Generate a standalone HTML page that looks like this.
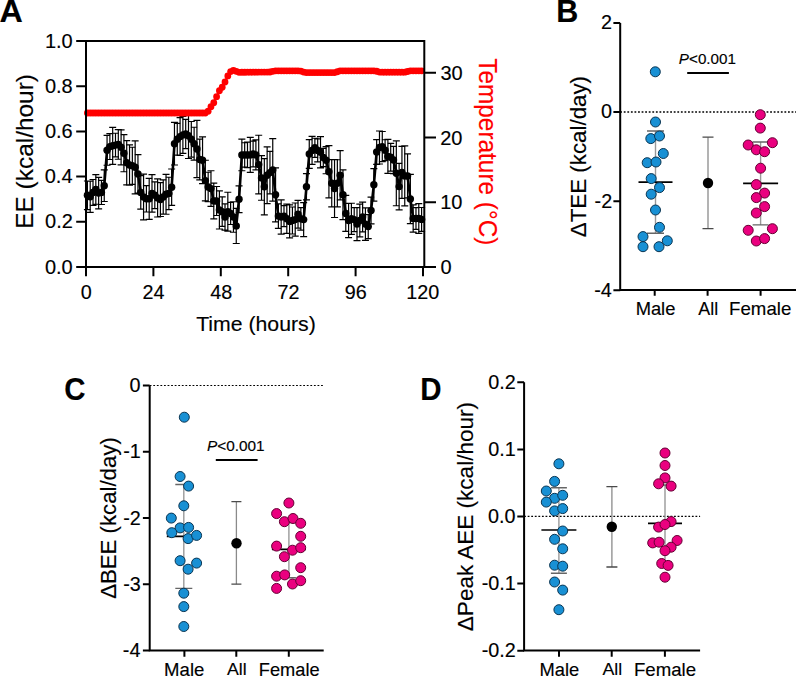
<!DOCTYPE html>
<html><head><meta charset="utf-8"><style>
html,body{margin:0;padding:0;background:#fff;}
svg{display:block;font-family:'Liberation Sans', sans-serif;}
</style></head><body>
<svg width="796" height="676" viewBox="0 0 796 676">
<rect width="796" height="676" fill="#fff"/>
<path d="M87.40 181.00V209.60M83.90 181.00h7M83.90 209.60h7M90.21 181.18V212.42M86.71 181.18h7M86.71 212.42h7M93.02 179.48V205.32M89.52 179.48h7M89.52 205.32h7M95.83 174.55V204.25M92.33 174.55h7M92.33 204.25h7M98.64 177.35V208.85M95.14 177.35h7M95.14 208.85h7M101.45 180.30V204.50M97.95 180.30h7M97.95 204.50h7M104.25 169.92V201.48M100.75 169.92h7M100.75 201.48h7M107.06 135.37V165.23M103.56 135.37h7M103.56 165.23h7M109.87 133.70V159.50M106.37 133.70h7M106.37 159.50h7M112.68 127.30V164.30M109.18 127.30h7M109.18 164.30h7M115.49 133.26V156.94M111.99 133.26h7M111.99 156.94h7M118.30 129.56V159.24M114.80 129.56h7M114.80 159.24h7M121.10 129.80V164.80M117.60 129.80h7M117.60 164.80h7M123.91 134.67V171.73M120.41 134.67h7M120.41 171.73h7M126.72 140.64V184.96M123.22 140.64h7M123.22 184.96h7M129.53 144.89V185.11M126.03 144.89h7M126.03 185.11h7M132.34 147.25V184.35M128.84 147.25h7M128.84 184.35h7M135.15 140.78V193.82M131.65 140.78h7M131.65 193.82h7M137.95 154.60V193.20M134.45 154.60h7M134.45 193.20h7M140.76 175.72V209.08M137.26 175.72h7M137.26 209.08h7M143.57 174.17V219.83M140.07 174.17h7M140.07 219.83h7M146.38 185.60V212.00M142.88 185.60h7M142.88 212.00h7M149.19 178.30V219.30M145.69 178.30h7M145.69 219.30h7M152.00 174.67V212.13M148.50 174.67h7M148.50 212.13h7M154.80 181.78V208.62M151.30 181.78h7M151.30 208.62h7M157.61 178.79V217.01M154.11 178.79h7M154.11 217.01h7M160.42 182.72V216.48M156.92 182.72h7M156.92 216.48h7M163.23 179.90V214.10M159.73 179.90h7M159.73 214.10h7M166.04 174.34V214.26M162.54 174.34h7M162.54 214.26h7M168.85 177.23V209.57M165.35 177.23h7M165.35 209.57h7M171.65 169.02V205.38M168.15 169.02h7M168.15 205.38h7M174.46 122.42V164.98M170.96 122.42h7M170.96 164.98h7M177.27 123.44V155.16M173.77 123.44h7M173.77 155.16h7M180.08 117.70V155.50M176.58 117.70h7M176.58 155.50h7M182.89 116.52V153.28M179.39 116.52h7M179.39 153.28h7M185.70 119.34V148.66M182.20 119.34h7M182.20 148.66h7M188.50 112.90V158.50M185.00 112.90h7M185.00 158.50h7M191.31 121.52V157.08M187.81 121.52h7M187.81 157.08h7M194.12 127.27V160.13M190.62 127.27h7M190.62 160.13h7M196.93 120.40V177.60M193.43 120.40h7M193.43 177.60h7M199.74 139.05V179.95M196.24 139.05h7M196.24 179.95h7M202.55 136.78V183.62M199.05 136.78h7M199.05 183.62h7M205.35 160.25V200.95M201.85 160.25h7M201.85 200.95h7M208.16 172.26V201.74M204.66 172.26h7M204.66 201.74h7M210.97 170.73V206.47M207.47 170.73h7M207.47 206.47h7M213.78 183.18V218.82M210.28 183.18h7M210.28 218.82h7M216.59 186.50V215.50M213.09 186.50h7M213.09 215.50h7M219.40 190.81V228.99M215.90 190.81h7M215.90 228.99h7M222.20 196.94V226.46M218.70 196.94h7M218.70 226.46h7M225.01 203.89V230.11M221.51 203.89h7M221.51 230.11h7M227.82 192.23V231.17M224.32 192.23h7M224.32 231.17h7M230.63 202.28V224.52M227.13 202.28h7M227.13 224.52h7M233.44 201.74V232.26M229.94 201.74h7M229.94 232.26h7M236.25 208.30V243.50M232.75 208.30h7M232.75 243.50h7M239.05 185.81V212.59M235.55 185.81h7M235.55 212.59h7M241.86 139.07V170.73M238.36 139.07h7M238.36 170.73h7M244.67 142.73V167.07M241.17 142.73h7M241.17 167.07h7M247.48 142.12V167.68M243.98 142.12h7M243.98 167.68h7M250.29 137.34V172.46M246.79 137.34h7M246.79 172.46h7M253.10 141.15V166.85M249.60 141.15h7M249.60 166.85h7M255.90 139.97V169.83M252.40 139.97h7M252.40 169.83h7M258.71 135.24V193.96M255.21 135.24h7M255.21 193.96h7M261.52 155.53V200.27M258.02 155.53h7M258.02 200.27h7M264.33 158.66V214.94M260.83 158.66h7M260.83 214.94h7M267.14 146.92V203.68M263.64 146.92h7M263.64 203.68h7M269.95 151.28V193.92M266.45 151.28h7M266.45 193.92h7M272.75 138.59V201.21M269.25 138.59h7M269.25 201.21h7M275.56 167.78V221.82M272.06 167.78h7M272.06 221.82h7M278.37 203.79V228.41M274.87 203.79h7M274.87 228.41h7M281.18 199.83V234.17M277.68 199.83h7M277.68 234.17h7M283.99 205.63V226.57M280.49 205.63h7M280.49 226.57h7M286.80 204.15V233.45M283.30 204.15h7M283.30 233.45h7M289.60 204.83V237.97M286.10 204.83h7M286.10 237.97h7M292.41 207.01V233.99M288.91 207.01h7M288.91 233.99h7M295.22 202.99V236.21M291.72 202.99h7M291.72 236.21h7M298.03 200.45V228.15M294.53 200.45h7M294.53 228.15h7M300.84 207.54V230.06M297.34 207.54h7M297.34 230.06h7M303.65 202.60V236.60M300.15 202.60h7M300.15 236.60h7M306.45 173.64V199.96M302.95 173.64h7M302.95 199.96h7M309.26 139.57V168.43M305.76 139.57h7M305.76 168.43h7M312.07 136.44V164.36M308.57 136.44h7M308.57 164.36h7M314.88 138.23V157.37M311.38 138.23h7M311.38 157.37h7M317.69 138.92V161.88M314.19 138.92h7M314.19 161.88h7M320.50 136.55V167.85M317.00 136.55h7M317.00 167.85h7M323.30 148.32V166.68M319.80 148.32h7M319.80 166.68h7M326.11 146.66V173.74M322.61 146.66h7M322.61 173.74h7M328.92 145.57V197.83M325.42 145.57h7M325.42 197.83h7M331.73 159.65V206.95M328.23 159.65h7M328.23 206.95h7M334.54 159.72V217.48M331.04 159.72h7M331.04 217.48h7M337.35 159.73V206.87M333.85 159.73h7M333.85 206.87h7M340.15 150.69V199.91M336.65 150.69h7M336.65 199.91h7M342.96 169.93V219.67M339.46 169.93h7M339.46 219.67h7M345.77 195.35V231.45M342.27 195.35h7M342.27 231.45h7M348.58 203.32V237.68M345.08 203.32h7M345.08 237.68h7M351.39 203.23V234.37M347.89 203.23h7M347.89 234.37h7M354.20 207.60V231.60M350.70 207.60h7M350.70 231.60h7M357.00 207.57V240.63M353.50 207.57h7M353.50 240.63h7M359.81 204.09V236.91M356.31 204.09h7M356.31 236.91h7M362.62 202.10V231.90M359.12 202.10h7M359.12 231.90h7M365.43 207.80V240.40M361.93 207.80h7M361.93 240.40h7M368.24 214.56V238.64M364.74 214.56h7M364.74 238.64h7M371.05 197.05V223.95M367.55 197.05h7M367.55 223.95h7M373.85 168.57V201.03M370.35 168.57h7M370.35 201.03h7M376.66 139.65V164.35M373.16 139.65h7M373.16 164.35h7M379.47 131.00V164.00M375.97 131.00h7M375.97 164.00h7M382.28 131.49V161.71M378.78 131.49h7M378.78 161.71h7M385.09 139.74V160.66M381.59 139.74h7M381.59 160.66h7M387.90 139.37V173.43M384.40 139.37h7M384.40 173.43h7M390.70 143.40V171.20M387.20 143.40h7M387.20 171.20h7M393.51 146.32V173.68M390.01 146.32h7M390.01 173.68h7M396.32 140.83V205.77M392.82 140.83h7M392.82 205.77h7M399.13 163.29V209.91M395.63 163.29h7M395.63 209.91h7M401.94 146.39V198.41M398.44 146.39h7M398.44 198.41h7M404.75 145.91V205.89M401.25 145.91h7M401.25 205.89h7M407.55 153.84V197.96M404.05 153.84h7M404.05 197.96h7M410.36 174.32V223.68M406.86 174.32h7M406.86 223.68h7M413.17 204.92V232.08M409.67 204.92h7M409.67 232.08h7M415.98 207.70V229.30M412.48 207.70h7M412.48 229.30h7M418.79 203.56V233.44M415.29 203.56h7M415.29 233.44h7M421.60 207.48V231.32M418.10 207.48h7M418.10 231.32h7" stroke="#000" stroke-width="1.2" fill="none"/>
<polyline fill="none" points="87.40,195.30 90.21,196.80 93.02,192.40 95.83,189.40 98.64,193.10 101.45,192.40 104.25,185.70 107.06,150.30 109.87,146.60 112.68,145.80 115.49,145.10 118.30,144.40 121.10,147.30 123.91,153.20 126.72,162.80 129.53,165.00 132.34,165.80 135.15,167.30 137.95,173.90 140.76,192.40 143.57,197.00 146.38,198.80 149.19,198.80 152.00,193.40 154.80,195.20 157.61,197.90 160.42,199.60 163.23,197.00 166.04,194.30 168.85,193.40 171.65,187.20 174.46,143.70 177.27,139.30 180.08,136.60 182.89,134.90 185.70,134.00 188.50,135.70 191.31,139.30 194.12,143.70 196.93,149.00 199.74,159.50 202.55,160.20 205.35,180.60 208.16,187.00 210.97,188.60 213.78,201.00 216.59,201.00 219.40,209.90 222.20,211.70 225.01,217.00 227.82,211.70 230.63,213.40 233.44,217.00 236.25,225.90 239.05,199.20 241.86,154.90 244.67,154.90 247.48,154.90 250.29,154.90 253.10,154.00 255.90,154.90 258.71,164.60 261.52,177.90 264.33,186.80 267.14,175.30 269.95,172.60 272.75,169.90 275.56,194.80 278.37,216.10 281.18,217.00 283.99,216.10 286.80,218.80 289.60,221.40 292.41,220.50 295.22,219.60 298.03,214.30 300.84,218.80 303.65,219.60 306.45,186.80 309.26,154.00 312.07,150.40 314.88,147.80 317.69,150.40 320.50,152.20 323.30,157.50 326.11,160.20 328.92,171.70 331.73,183.30 334.54,188.60 337.35,183.30 340.15,175.30 342.96,194.80 345.77,213.40 348.58,220.50 351.39,218.80 354.20,219.60 357.00,224.10 359.81,220.50 362.62,217.00 365.43,224.10 368.24,226.60 371.05,210.50 373.85,184.80 376.66,152.00 379.47,147.50 382.28,146.60 385.09,150.20 387.90,156.40 390.70,157.30 393.51,160.00 396.32,173.30 399.13,186.60 401.94,172.40 404.75,175.90 407.55,175.90 410.36,199.00 413.17,218.50 415.98,218.50 418.79,218.50 421.60,219.40" stroke="#000" stroke-width="2.6"/>
<g fill="#000"><circle cx="87.40" cy="195.30" r="3.7"/><circle cx="90.21" cy="196.80" r="3.7"/><circle cx="93.02" cy="192.40" r="3.7"/><circle cx="95.83" cy="189.40" r="3.7"/><circle cx="98.64" cy="193.10" r="3.7"/><circle cx="101.45" cy="192.40" r="3.7"/><circle cx="104.25" cy="185.70" r="3.7"/><circle cx="107.06" cy="150.30" r="3.7"/><circle cx="109.87" cy="146.60" r="3.7"/><circle cx="112.68" cy="145.80" r="3.7"/><circle cx="115.49" cy="145.10" r="3.7"/><circle cx="118.30" cy="144.40" r="3.7"/><circle cx="121.10" cy="147.30" r="3.7"/><circle cx="123.91" cy="153.20" r="3.7"/><circle cx="126.72" cy="162.80" r="3.7"/><circle cx="129.53" cy="165.00" r="3.7"/><circle cx="132.34" cy="165.80" r="3.7"/><circle cx="135.15" cy="167.30" r="3.7"/><circle cx="137.95" cy="173.90" r="3.7"/><circle cx="140.76" cy="192.40" r="3.7"/><circle cx="143.57" cy="197.00" r="3.7"/><circle cx="146.38" cy="198.80" r="3.7"/><circle cx="149.19" cy="198.80" r="3.7"/><circle cx="152.00" cy="193.40" r="3.7"/><circle cx="154.80" cy="195.20" r="3.7"/><circle cx="157.61" cy="197.90" r="3.7"/><circle cx="160.42" cy="199.60" r="3.7"/><circle cx="163.23" cy="197.00" r="3.7"/><circle cx="166.04" cy="194.30" r="3.7"/><circle cx="168.85" cy="193.40" r="3.7"/><circle cx="171.65" cy="187.20" r="3.7"/><circle cx="174.46" cy="143.70" r="3.7"/><circle cx="177.27" cy="139.30" r="3.7"/><circle cx="180.08" cy="136.60" r="3.7"/><circle cx="182.89" cy="134.90" r="3.7"/><circle cx="185.70" cy="134.00" r="3.7"/><circle cx="188.50" cy="135.70" r="3.7"/><circle cx="191.31" cy="139.30" r="3.7"/><circle cx="194.12" cy="143.70" r="3.7"/><circle cx="196.93" cy="149.00" r="3.7"/><circle cx="199.74" cy="159.50" r="3.7"/><circle cx="202.55" cy="160.20" r="3.7"/><circle cx="205.35" cy="180.60" r="3.7"/><circle cx="208.16" cy="187.00" r="3.7"/><circle cx="210.97" cy="188.60" r="3.7"/><circle cx="213.78" cy="201.00" r="3.7"/><circle cx="216.59" cy="201.00" r="3.7"/><circle cx="219.40" cy="209.90" r="3.7"/><circle cx="222.20" cy="211.70" r="3.7"/><circle cx="225.01" cy="217.00" r="3.7"/><circle cx="227.82" cy="211.70" r="3.7"/><circle cx="230.63" cy="213.40" r="3.7"/><circle cx="233.44" cy="217.00" r="3.7"/><circle cx="236.25" cy="225.90" r="3.7"/><circle cx="239.05" cy="199.20" r="3.7"/><circle cx="241.86" cy="154.90" r="3.7"/><circle cx="244.67" cy="154.90" r="3.7"/><circle cx="247.48" cy="154.90" r="3.7"/><circle cx="250.29" cy="154.90" r="3.7"/><circle cx="253.10" cy="154.00" r="3.7"/><circle cx="255.90" cy="154.90" r="3.7"/><circle cx="258.71" cy="164.60" r="3.7"/><circle cx="261.52" cy="177.90" r="3.7"/><circle cx="264.33" cy="186.80" r="3.7"/><circle cx="267.14" cy="175.30" r="3.7"/><circle cx="269.95" cy="172.60" r="3.7"/><circle cx="272.75" cy="169.90" r="3.7"/><circle cx="275.56" cy="194.80" r="3.7"/><circle cx="278.37" cy="216.10" r="3.7"/><circle cx="281.18" cy="217.00" r="3.7"/><circle cx="283.99" cy="216.10" r="3.7"/><circle cx="286.80" cy="218.80" r="3.7"/><circle cx="289.60" cy="221.40" r="3.7"/><circle cx="292.41" cy="220.50" r="3.7"/><circle cx="295.22" cy="219.60" r="3.7"/><circle cx="298.03" cy="214.30" r="3.7"/><circle cx="300.84" cy="218.80" r="3.7"/><circle cx="303.65" cy="219.60" r="3.7"/><circle cx="306.45" cy="186.80" r="3.7"/><circle cx="309.26" cy="154.00" r="3.7"/><circle cx="312.07" cy="150.40" r="3.7"/><circle cx="314.88" cy="147.80" r="3.7"/><circle cx="317.69" cy="150.40" r="3.7"/><circle cx="320.50" cy="152.20" r="3.7"/><circle cx="323.30" cy="157.50" r="3.7"/><circle cx="326.11" cy="160.20" r="3.7"/><circle cx="328.92" cy="171.70" r="3.7"/><circle cx="331.73" cy="183.30" r="3.7"/><circle cx="334.54" cy="188.60" r="3.7"/><circle cx="337.35" cy="183.30" r="3.7"/><circle cx="340.15" cy="175.30" r="3.7"/><circle cx="342.96" cy="194.80" r="3.7"/><circle cx="345.77" cy="213.40" r="3.7"/><circle cx="348.58" cy="220.50" r="3.7"/><circle cx="351.39" cy="218.80" r="3.7"/><circle cx="354.20" cy="219.60" r="3.7"/><circle cx="357.00" cy="224.10" r="3.7"/><circle cx="359.81" cy="220.50" r="3.7"/><circle cx="362.62" cy="217.00" r="3.7"/><circle cx="365.43" cy="224.10" r="3.7"/><circle cx="368.24" cy="226.60" r="3.7"/><circle cx="371.05" cy="210.50" r="3.7"/><circle cx="373.85" cy="184.80" r="3.7"/><circle cx="376.66" cy="152.00" r="3.7"/><circle cx="379.47" cy="147.50" r="3.7"/><circle cx="382.28" cy="146.60" r="3.7"/><circle cx="385.09" cy="150.20" r="3.7"/><circle cx="387.90" cy="156.40" r="3.7"/><circle cx="390.70" cy="157.30" r="3.7"/><circle cx="393.51" cy="160.00" r="3.7"/><circle cx="396.32" cy="173.30" r="3.7"/><circle cx="399.13" cy="186.60" r="3.7"/><circle cx="401.94" cy="172.40" r="3.7"/><circle cx="404.75" cy="175.90" r="3.7"/><circle cx="407.55" cy="175.90" r="3.7"/><circle cx="410.36" cy="199.00" r="3.7"/><circle cx="413.17" cy="218.50" r="3.7"/><circle cx="415.98" cy="218.50" r="3.7"/><circle cx="418.79" cy="218.50" r="3.7"/><circle cx="421.60" cy="219.40" r="3.7"/></g>
<g fill="#f00"><circle cx="87.40" cy="113.00" r="3.4"/><circle cx="90.21" cy="113.00" r="3.4"/><circle cx="93.02" cy="113.00" r="3.4"/><circle cx="95.83" cy="113.00" r="3.4"/><circle cx="98.64" cy="113.00" r="3.4"/><circle cx="101.45" cy="113.00" r="3.4"/><circle cx="104.25" cy="113.00" r="3.4"/><circle cx="107.06" cy="113.00" r="3.4"/><circle cx="109.87" cy="113.00" r="3.4"/><circle cx="112.68" cy="113.00" r="3.4"/><circle cx="115.49" cy="113.00" r="3.4"/><circle cx="118.30" cy="113.00" r="3.4"/><circle cx="121.10" cy="113.00" r="3.4"/><circle cx="123.91" cy="113.00" r="3.4"/><circle cx="126.72" cy="113.00" r="3.4"/><circle cx="129.53" cy="113.00" r="3.4"/><circle cx="132.34" cy="113.00" r="3.4"/><circle cx="135.15" cy="113.00" r="3.4"/><circle cx="137.95" cy="113.00" r="3.4"/><circle cx="140.76" cy="113.00" r="3.4"/><circle cx="143.57" cy="113.00" r="3.4"/><circle cx="146.38" cy="113.00" r="3.4"/><circle cx="149.19" cy="113.00" r="3.4"/><circle cx="152.00" cy="113.00" r="3.4"/><circle cx="154.80" cy="113.00" r="3.4"/><circle cx="157.61" cy="113.00" r="3.4"/><circle cx="160.42" cy="113.00" r="3.4"/><circle cx="163.23" cy="113.00" r="3.4"/><circle cx="166.04" cy="113.00" r="3.4"/><circle cx="168.85" cy="113.00" r="3.4"/><circle cx="171.65" cy="113.00" r="3.4"/><circle cx="174.46" cy="113.00" r="3.4"/><circle cx="177.27" cy="113.00" r="3.4"/><circle cx="180.08" cy="113.00" r="3.4"/><circle cx="182.89" cy="113.00" r="3.4"/><circle cx="185.70" cy="113.00" r="3.4"/><circle cx="188.50" cy="113.00" r="3.4"/><circle cx="191.31" cy="113.00" r="3.4"/><circle cx="194.12" cy="113.00" r="3.4"/><circle cx="196.93" cy="113.00" r="3.4"/><circle cx="199.74" cy="113.00" r="3.4"/><circle cx="202.55" cy="113.00" r="3.4"/><circle cx="205.35" cy="113.00" r="3.4"/><circle cx="208.16" cy="111.20" r="3.4"/><circle cx="210.97" cy="106.70" r="3.4"/><circle cx="213.78" cy="102.65" r="3.4"/><circle cx="216.59" cy="96.65" r="3.4"/><circle cx="219.40" cy="90.75" r="3.4"/><circle cx="222.20" cy="87.25" r="3.4"/><circle cx="225.01" cy="82.00" r="3.4"/><circle cx="227.82" cy="75.90" r="3.4"/><circle cx="230.63" cy="71.55" r="3.4"/><circle cx="233.44" cy="70.30" r="3.4"/><circle cx="236.25" cy="71.30" r="3.4"/><circle cx="239.05" cy="72.29" r="3.4"/><circle cx="241.86" cy="72.26" r="3.4"/><circle cx="244.67" cy="72.23" r="3.4"/><circle cx="247.48" cy="72.21" r="3.4"/><circle cx="250.29" cy="72.18" r="3.4"/><circle cx="253.10" cy="72.16" r="3.4"/><circle cx="255.90" cy="72.13" r="3.4"/><circle cx="258.71" cy="72.10" r="3.4"/><circle cx="261.52" cy="72.08" r="3.4"/><circle cx="264.33" cy="72.05" r="3.4"/><circle cx="267.14" cy="72.03" r="3.4"/><circle cx="269.95" cy="72.00" r="3.4"/><circle cx="272.75" cy="71.34" r="3.4"/><circle cx="275.56" cy="70.80" r="3.4"/><circle cx="278.37" cy="70.80" r="3.4"/><circle cx="281.18" cy="70.80" r="3.4"/><circle cx="283.99" cy="70.80" r="3.4"/><circle cx="286.80" cy="70.80" r="3.4"/><circle cx="289.60" cy="70.80" r="3.4"/><circle cx="292.41" cy="70.80" r="3.4"/><circle cx="295.22" cy="70.80" r="3.4"/><circle cx="298.03" cy="70.80" r="3.4"/><circle cx="300.84" cy="71.10" r="3.4"/><circle cx="303.65" cy="72.11" r="3.4"/><circle cx="306.45" cy="72.60" r="3.4"/><circle cx="309.26" cy="72.60" r="3.4"/><circle cx="312.07" cy="72.60" r="3.4"/><circle cx="314.88" cy="72.60" r="3.4"/><circle cx="317.69" cy="72.60" r="3.4"/><circle cx="320.50" cy="72.60" r="3.4"/><circle cx="323.30" cy="72.60" r="3.4"/><circle cx="326.11" cy="72.60" r="3.4"/><circle cx="328.92" cy="72.60" r="3.4"/><circle cx="331.73" cy="72.60" r="3.4"/><circle cx="334.54" cy="72.60" r="3.4"/><circle cx="337.35" cy="71.76" r="3.4"/><circle cx="340.15" cy="70.80" r="3.4"/><circle cx="342.96" cy="70.80" r="3.4"/><circle cx="345.77" cy="70.80" r="3.4"/><circle cx="348.58" cy="70.80" r="3.4"/><circle cx="351.39" cy="70.80" r="3.4"/><circle cx="354.20" cy="70.80" r="3.4"/><circle cx="357.00" cy="70.80" r="3.4"/><circle cx="359.81" cy="70.80" r="3.4"/><circle cx="362.62" cy="70.80" r="3.4"/><circle cx="365.43" cy="70.80" r="3.4"/><circle cx="368.24" cy="70.80" r="3.4"/><circle cx="371.05" cy="70.80" r="3.4"/><circle cx="373.85" cy="70.80" r="3.4"/><circle cx="376.66" cy="71.27" r="3.4"/><circle cx="379.47" cy="72.05" r="3.4"/><circle cx="382.28" cy="72.20" r="3.4"/><circle cx="385.09" cy="72.20" r="3.4"/><circle cx="387.90" cy="72.20" r="3.4"/><circle cx="390.70" cy="72.20" r="3.4"/><circle cx="393.51" cy="72.20" r="3.4"/><circle cx="396.32" cy="72.20" r="3.4"/><circle cx="399.13" cy="72.20" r="3.4"/><circle cx="401.94" cy="72.20" r="3.4"/><circle cx="404.75" cy="72.20" r="3.4"/><circle cx="407.55" cy="71.48" r="3.4"/><circle cx="410.36" cy="70.80" r="3.4"/><circle cx="413.17" cy="70.80" r="3.4"/><circle cx="415.98" cy="70.80" r="3.4"/><circle cx="418.79" cy="70.80" r="3.4"/><circle cx="421.60" cy="70.80" r="3.4"/></g>
<polyline fill="none" points="87.40,113.00 90.21,113.00 93.02,113.00 95.83,113.00 98.64,113.00 101.45,113.00 104.25,113.00 107.06,113.00 109.87,113.00 112.68,113.00 115.49,113.00 118.30,113.00 121.10,113.00 123.91,113.00 126.72,113.00 129.53,113.00 132.34,113.00 135.15,113.00 137.95,113.00 140.76,113.00 143.57,113.00 146.38,113.00 149.19,113.00 152.00,113.00 154.80,113.00 157.61,113.00 160.42,113.00 163.23,113.00 166.04,113.00 168.85,113.00 171.65,113.00 174.46,113.00 177.27,113.00 180.08,113.00 182.89,113.00 185.70,113.00 188.50,113.00 191.31,113.00 194.12,113.00 196.93,113.00 199.74,113.00 202.55,113.00 205.35,113.00 208.16,111.20 210.97,106.70 213.78,102.65 216.59,96.65 219.40,90.75 222.20,87.25 225.01,82.00 227.82,75.90 230.63,71.55 233.44,70.30 236.25,71.30 239.05,72.29 241.86,72.26 244.67,72.23 247.48,72.21 250.29,72.18 253.10,72.16 255.90,72.13 258.71,72.10 261.52,72.08 264.33,72.05 267.14,72.03 269.95,72.00 272.75,71.34 275.56,70.80 278.37,70.80 281.18,70.80 283.99,70.80 286.80,70.80 289.60,70.80 292.41,70.80 295.22,70.80 298.03,70.80 300.84,71.10 303.65,72.11 306.45,72.60 309.26,72.60 312.07,72.60 314.88,72.60 317.69,72.60 320.50,72.60 323.30,72.60 326.11,72.60 328.92,72.60 331.73,72.60 334.54,72.60 337.35,71.76 340.15,70.80 342.96,70.80 345.77,70.80 348.58,70.80 351.39,70.80 354.20,70.80 357.00,70.80 359.81,70.80 362.62,70.80 365.43,70.80 368.24,70.80 371.05,70.80 373.85,70.80 376.66,71.27 379.47,72.05 382.28,72.20 385.09,72.20 387.90,72.20 390.70,72.20 393.51,72.20 396.32,72.20 399.13,72.20 401.94,72.20 404.75,72.20 407.55,71.48 410.36,70.80 413.17,70.80 415.98,70.80 418.79,70.80 421.60,70.80" stroke="#f00" stroke-width="2.2"/>
<path d="M86 41H424.3V267H86Z" fill="none" stroke="#000" stroke-width="2"/>
<path d="M76.2 267.00H86M76.2 221.80H86M76.2 176.60H86M76.2 131.40H86M76.2 86.20H86M76.2 41.00H86M424.3 267.00H436M424.3 202.23H436M424.3 137.47H436M424.3 72.70H436M86.00 267V276.3M153.40 267V276.3M220.80 267V276.3M288.20 267V276.3M355.60 267V276.3M423.00 267V276.3" stroke="#000" stroke-width="2" fill="none"/>
<text transform="matrix(0.20000,0.00000,0.00000,0.20000,44.900,273.500)" font-size="100" font-weight="normal" fill="#000" stroke="#000" stroke-width="0.750">0.0</text>
<text transform="matrix(0.20000,0.00000,0.00000,0.20000,45.100,228.300)" font-size="100" font-weight="normal" fill="#000" stroke="#000" stroke-width="0.750">0.2</text>
<text transform="matrix(0.20000,0.00000,0.00000,0.20000,44.700,183.100)" font-size="100" font-weight="normal" fill="#000" stroke="#000" stroke-width="0.750">0.4</text>
<text transform="matrix(0.20000,0.00000,0.00000,0.20000,44.900,137.900)" font-size="100" font-weight="normal" fill="#000" stroke="#000" stroke-width="0.750">0.6</text>
<text transform="matrix(0.20000,0.00000,0.00000,0.20000,44.900,92.700)" font-size="100" font-weight="normal" fill="#000" stroke="#000" stroke-width="0.750">0.8</text>
<text transform="matrix(0.20000,0.00000,0.00000,0.20000,44.900,47.500)" font-size="100" font-weight="normal" fill="#000" stroke="#000" stroke-width="0.750">1.0</text>
<text transform="matrix(0.20000,0.00000,0.00000,0.20000,440.400,274.100)" font-size="100" font-weight="normal" fill="#000" stroke="#000" stroke-width="0.750">0</text>
<text transform="matrix(0.20000,0.00000,0.00000,0.20000,440.200,209.333)" font-size="100" font-weight="normal" fill="#000" stroke="#000" stroke-width="0.750">10</text>
<text transform="matrix(0.20000,0.00000,0.00000,0.20000,440.200,144.567)" font-size="100" font-weight="normal" fill="#000" stroke="#000" stroke-width="0.750">20</text>
<text transform="matrix(0.20000,0.00000,0.00000,0.20000,440.400,79.800)" font-size="100" font-weight="normal" fill="#000" stroke="#000" stroke-width="0.750">30</text>
<text transform="matrix(0.19800,0.00000,0.00000,0.19800,80.656,299.031)" font-size="100" font-weight="normal" fill="#000" stroke="#000" stroke-width="0.758">0</text>
<text transform="matrix(0.19800,0.00000,0.00000,0.19800,142.413,299.130)" font-size="100" font-weight="normal" fill="#000" stroke="#000" stroke-width="0.758">24</text>
<text transform="matrix(0.19800,0.00000,0.00000,0.19800,210.209,299.031)" font-size="100" font-weight="normal" fill="#000" stroke="#000" stroke-width="0.758">48</text>
<text transform="matrix(0.19800,0.00000,0.00000,0.19800,277.411,299.130)" font-size="100" font-weight="normal" fill="#000" stroke="#000" stroke-width="0.758">72</text>
<text transform="matrix(0.19800,0.00000,0.00000,0.19800,344.712,299.031)" font-size="100" font-weight="normal" fill="#000" stroke="#000" stroke-width="0.758">96</text>
<text transform="matrix(0.19800,0.00000,0.00000,0.19800,406.271,299.031)" font-size="100" font-weight="normal" fill="#000" stroke="#000" stroke-width="0.758">120</text>
<text transform="matrix(0.21261,0.00000,0.00000,0.20532,196.175,331.088)" font-size="100" font-weight="normal" fill="#000" stroke="#000" stroke-width="0.706">Time (hours)</text>
<text transform="matrix(0.00000,-0.24443,0.24255,0.00000,33.406,228.755)" font-size="100" font-weight="normal" fill="#000" stroke="#000" stroke-width="0.614">EE (kcal/hour)</text>
<text transform="matrix(0.00000,0.24395,-0.25000,0.00000,479.450,58.212)" font-size="100" font-weight="normal" fill="#f00" stroke="#f00" stroke-width="0.615">Temperature (°C)</text>
<text transform="matrix(0.32273,0.00000,0.00000,0.31618,-0.468,21.916)" font-size="100" font-weight="bold" fill="#000" stroke="#000" stroke-width="0.465">A</text>
<line x1="620.20" y1="112.00" x2="796.00" y2="112.00" stroke="#000" stroke-width="1.5" stroke-dasharray="1.8 1.77"/>
<path d="M655.5 131V233.3" stroke="#999" stroke-width="1.4" fill="none"/>
<path d="M647.0 131h17M647.0 233.3h17" stroke="#666" stroke-width="1.4" fill="none"/>
<path d="M760.6 142V224.9" stroke="#999" stroke-width="1.4" fill="none"/>
<path d="M752.6 142h16M752.6 224.9h16" stroke="#666" stroke-width="1.4" fill="none"/>
<path d="M708 137.2V228.7" stroke="#8a8a8a" stroke-width="1.3" fill="none"/>
<path d="M702.5 137.2h11M702.5 228.7h11" stroke="#4a4a4a" stroke-width="1.3" fill="none"/>
<line x1="638.5" y1="182.1" x2="672.5" y2="182.1" stroke="#000" stroke-width="1.7"/>
<line x1="743.1" y1="183.4" x2="778.1" y2="183.4" stroke="#000" stroke-width="1.7"/>
<circle cx="655.3" cy="71.8" r="5" fill="#1890d4" stroke="#0a3552" stroke-width="1"/><circle cx="655.5" cy="122.0" r="5" fill="#1890d4" stroke="#0a3552" stroke-width="1"/><circle cx="650.8" cy="138.6" r="5" fill="#1890d4" stroke="#0a3552" stroke-width="1"/><circle cx="659.5" cy="136.0" r="5" fill="#1890d4" stroke="#0a3552" stroke-width="1"/><circle cx="663.3" cy="153.5" r="5" fill="#1890d4" stroke="#0a3552" stroke-width="1"/><circle cx="647.2" cy="162.7" r="5" fill="#1890d4" stroke="#0a3552" stroke-width="1"/><circle cx="656.0" cy="162.0" r="5" fill="#1890d4" stroke="#0a3552" stroke-width="1"/><circle cx="651.2" cy="178.6" r="5" fill="#1890d4" stroke="#0a3552" stroke-width="1"/><circle cx="659.5" cy="187.6" r="5" fill="#1890d4" stroke="#0a3552" stroke-width="1"/><circle cx="651.2" cy="194.2" r="5" fill="#1890d4" stroke="#0a3552" stroke-width="1"/><circle cx="655.5" cy="210.0" r="5" fill="#1890d4" stroke="#0a3552" stroke-width="1"/><circle cx="659.5" cy="227.3" r="5" fill="#1890d4" stroke="#0a3552" stroke-width="1"/><circle cx="643.0" cy="236.6" r="5" fill="#1890d4" stroke="#0a3552" stroke-width="1"/><circle cx="643.0" cy="246.7" r="5" fill="#1890d4" stroke="#0a3552" stroke-width="1"/><circle cx="659.0" cy="246.7" r="5" fill="#1890d4" stroke="#0a3552" stroke-width="1"/><circle cx="667.3" cy="240.8" r="5" fill="#1890d4" stroke="#0a3552" stroke-width="1"/><circle cx="760.3" cy="114.7" r="5" fill="#ea007f" stroke="#640033" stroke-width="1"/><circle cx="760.3" cy="128.1" r="5" fill="#ea007f" stroke="#640033" stroke-width="1"/><circle cx="748.2" cy="145.0" r="5" fill="#ea007f" stroke="#640033" stroke-width="1"/><circle cx="772.4" cy="142.7" r="5" fill="#ea007f" stroke="#640033" stroke-width="1"/><circle cx="756.3" cy="149.8" r="5" fill="#ea007f" stroke="#640033" stroke-width="1"/><circle cx="764.6" cy="151.7" r="5" fill="#ea007f" stroke="#640033" stroke-width="1"/><circle cx="760.6" cy="168.2" r="5" fill="#ea007f" stroke="#640033" stroke-width="1"/><circle cx="756.3" cy="184.6" r="5" fill="#ea007f" stroke="#640033" stroke-width="1"/><circle cx="764.6" cy="193.1" r="5" fill="#ea007f" stroke="#640033" stroke-width="1"/><circle cx="756.3" cy="197.6" r="5" fill="#ea007f" stroke="#640033" stroke-width="1"/><circle cx="764.6" cy="206.6" r="5" fill="#ea007f" stroke="#640033" stroke-width="1"/><circle cx="756.3" cy="213.0" r="5" fill="#ea007f" stroke="#640033" stroke-width="1"/><circle cx="748.2" cy="230.3" r="5" fill="#ea007f" stroke="#640033" stroke-width="1"/><circle cx="772.4" cy="228.7" r="5" fill="#ea007f" stroke="#640033" stroke-width="1"/><circle cx="756.3" cy="241.0" r="5" fill="#ea007f" stroke="#640033" stroke-width="1"/><circle cx="764.6" cy="238.6" r="5" fill="#ea007f" stroke="#640033" stroke-width="1"/>
<circle cx="708" cy="183" r="5.2" fill="#000"/>
<path d="M620.2 22.9V290.0H796" fill="none" stroke="#000" stroke-width="2"/>
<path d="M613.4000000000001 23.0H620.2M613.4000000000001 112.1H620.2M613.4000000000001 201.2H620.2M613.4000000000001 290.29999999999995H620.2M654.7 290.0V295.8M707.6 290.0V295.8M760.6 290.0V295.8" stroke="#000" stroke-width="2" fill="none"/>
<text transform="matrix(0.19800,0.00000,0.00000,0.19800,601.102,29.430)" font-size="100" font-weight="normal" fill="#000" stroke="#000" stroke-width="0.758">2</text>
<text transform="matrix(0.19800,0.00000,0.00000,0.19800,600.904,118.431)" font-size="100" font-weight="normal" fill="#000" stroke="#000" stroke-width="0.758">0</text>
<text transform="matrix(0.19800,0.00000,0.00000,0.19800,594.568,207.630)" font-size="100" font-weight="normal" fill="#000" stroke="#000" stroke-width="0.758">-2</text>
<text transform="matrix(0.19800,0.00000,0.00000,0.19800,594.172,296.730)" font-size="100" font-weight="normal" fill="#000" stroke="#000" stroke-width="0.758">-4</text>
<text transform="matrix(0.18333,0.00000,0.00000,0.17703,635.633,314.823)" font-size="100" font-weight="normal" fill="#000" stroke="#000" stroke-width="0.818">Male</text>
<text transform="matrix(0.17905,0.00000,0.00000,0.17534,698.300,314.700)" font-size="100" font-weight="normal" fill="#000" stroke="#000" stroke-width="0.838">All</text>
<text transform="matrix(0.18660,0.00000,0.00000,0.17703,729.107,314.823)" font-size="100" font-weight="normal" fill="#000" stroke="#000" stroke-width="0.804">Female</text>
<line x1="687.2" y1="73" x2="728.9" y2="73" stroke="#000" stroke-width="2"/>
<text transform="matrix(0.15232,0.00000,0.00000,0.14789,678.843,64.052)" font-size="100" font-weight="normal" fill="#000" stroke="#000" stroke-width="0.985"><tspan font-style="italic">P</tspan>&lt;0.001</text>
<text transform="matrix(0.00000,-0.22328,0.22234,0.00000,586.131,237.170)" font-size="100" font-weight="normal" fill="#000" stroke="#000" stroke-width="0.672">ΔTEE (kcal/day)</text>
<text transform="matrix(0.30492,0.00000,0.00000,0.30870,556.266,21.600)" font-size="100" font-weight="bold" fill="#000" stroke="#000" stroke-width="0.492">B</text>
<line x1="149.70" y1="385.50" x2="323.70" y2="385.50" stroke="#000" stroke-width="1.1" stroke-dasharray="1.8 1.77"/>
<path d="M183.8 484.5V588.4" stroke="#999" stroke-width="1.4" fill="none"/>
<path d="M175.3 484.5h17M175.3 588.4h17" stroke="#666" stroke-width="1.4" fill="none"/>
<path d="M288.9 522.5V577.8" stroke="#999" stroke-width="1.4" fill="none"/>
<path d="M281.9 522.5h14M281.9 577.8h14" stroke="#666" stroke-width="1.4" fill="none"/>
<path d="M236.4 501.7V584.2" stroke="#8a8a8a" stroke-width="1.3" fill="none"/>
<path d="M231.4 501.7h10M231.4 584.2h10" stroke="#4a4a4a" stroke-width="1.3" fill="none"/>
<line x1="166.8" y1="536.4" x2="200.8" y2="536.4" stroke="#000" stroke-width="1.7"/>
<line x1="271.9" y1="549.3" x2="305.9" y2="549.3" stroke="#000" stroke-width="1.7"/>
<circle cx="184.3" cy="417.2" r="5" fill="#1890d4" stroke="#0a3552" stroke-width="1"/><circle cx="180.1" cy="476.5" r="5" fill="#1890d4" stroke="#0a3552" stroke-width="1"/><circle cx="188.6" cy="486.1" r="5" fill="#1890d4" stroke="#0a3552" stroke-width="1"/><circle cx="183.8" cy="505.8" r="5" fill="#1890d4" stroke="#0a3552" stroke-width="1"/><circle cx="171.3" cy="518.1" r="5" fill="#1890d4" stroke="#0a3552" stroke-width="1"/><circle cx="180.1" cy="527.9" r="5" fill="#1890d4" stroke="#0a3552" stroke-width="1"/><circle cx="188.6" cy="527.4" r="5" fill="#1890d4" stroke="#0a3552" stroke-width="1"/><circle cx="171.8" cy="532.7" r="5" fill="#1890d4" stroke="#0a3552" stroke-width="1"/><circle cx="188.1" cy="538.6" r="5" fill="#1890d4" stroke="#0a3552" stroke-width="1"/><circle cx="196.6" cy="535.4" r="5" fill="#1890d4" stroke="#0a3552" stroke-width="1"/><circle cx="180.1" cy="560.7" r="5" fill="#1890d4" stroke="#0a3552" stroke-width="1"/><circle cx="196.6" cy="563.1" r="5" fill="#1890d4" stroke="#0a3552" stroke-width="1"/><circle cx="188.1" cy="569.2" r="5" fill="#1890d4" stroke="#0a3552" stroke-width="1"/><circle cx="183.8" cy="593.2" r="5" fill="#1890d4" stroke="#0a3552" stroke-width="1"/><circle cx="183.8" cy="606.6" r="5" fill="#1890d4" stroke="#0a3552" stroke-width="1"/><circle cx="183.8" cy="626.5" r="5" fill="#1890d4" stroke="#0a3552" stroke-width="1"/><circle cx="288.9" cy="503.0" r="5" fill="#ea007f" stroke="#640033" stroke-width="1"/><circle cx="276.6" cy="513.6" r="5" fill="#ea007f" stroke="#640033" stroke-width="1"/><circle cx="284.4" cy="521.7" r="5" fill="#ea007f" stroke="#640033" stroke-width="1"/><circle cx="293.0" cy="518.5" r="5" fill="#ea007f" stroke="#640033" stroke-width="1"/><circle cx="300.7" cy="523.3" r="5" fill="#ea007f" stroke="#640033" stroke-width="1"/><circle cx="300.7" cy="536.3" r="5" fill="#ea007f" stroke="#640033" stroke-width="1"/><circle cx="276.6" cy="546.1" r="5" fill="#ea007f" stroke="#640033" stroke-width="1"/><circle cx="292.5" cy="550.2" r="5" fill="#ea007f" stroke="#640033" stroke-width="1"/><circle cx="300.7" cy="547.7" r="5" fill="#ea007f" stroke="#640033" stroke-width="1"/><circle cx="284.4" cy="556.7" r="5" fill="#ea007f" stroke="#640033" stroke-width="1"/><circle cx="300.7" cy="567.7" r="5" fill="#ea007f" stroke="#640033" stroke-width="1"/><circle cx="276.6" cy="576.2" r="5" fill="#ea007f" stroke="#640033" stroke-width="1"/><circle cx="284.7" cy="574.9" r="5" fill="#ea007f" stroke="#640033" stroke-width="1"/><circle cx="292.5" cy="584.0" r="5" fill="#ea007f" stroke="#640033" stroke-width="1"/><circle cx="300.7" cy="580.7" r="5" fill="#ea007f" stroke="#640033" stroke-width="1"/><circle cx="276.6" cy="588.4" r="5" fill="#ea007f" stroke="#640033" stroke-width="1"/>
<circle cx="236.5" cy="543.2" r="5.2" fill="#000"/>
<path d="M149.7 385.6V650.5H323.7" fill="none" stroke="#000" stroke-width="2"/>
<path d="M142.89999999999998 385.6H149.7M142.89999999999998 451.85H149.7M142.89999999999998 518.1H149.7M142.89999999999998 584.35H149.7M142.89999999999998 650.6H149.7M184.4 650.5V656.8M236.3 650.5V656.8M288.8 650.5V656.8" stroke="#000" stroke-width="2" fill="none"/>
<text transform="matrix(0.19800,0.00000,0.00000,0.19800,129.604,391.931)" font-size="100" font-weight="normal" fill="#000" stroke="#000" stroke-width="0.758">0</text>
<text transform="matrix(0.19800,0.00000,0.00000,0.19800,123.268,458.181)" font-size="100" font-weight="normal" fill="#000" stroke="#000" stroke-width="0.758">-1</text>
<text transform="matrix(0.19800,0.00000,0.00000,0.19800,123.268,524.530)" font-size="100" font-weight="normal" fill="#000" stroke="#000" stroke-width="0.758">-2</text>
<text transform="matrix(0.19800,0.00000,0.00000,0.19800,123.268,590.681)" font-size="100" font-weight="normal" fill="#000" stroke="#000" stroke-width="0.758">-3</text>
<text transform="matrix(0.19800,0.00000,0.00000,0.19800,122.872,657.030)" font-size="100" font-weight="normal" fill="#000" stroke="#000" stroke-width="0.758">-4</text>
<text transform="matrix(0.18578,0.00000,0.00000,0.17432,164.114,675.526)" font-size="100" font-weight="normal" fill="#000" stroke="#000" stroke-width="0.807">Male</text>
<text transform="matrix(0.17714,0.00000,0.00000,0.17260,227.000,675.400)" font-size="100" font-weight="normal" fill="#000" stroke="#000" stroke-width="0.847">All</text>
<text transform="matrix(0.18255,0.00000,0.00000,0.17432,258.840,675.526)" font-size="100" font-weight="normal" fill="#000" stroke="#000" stroke-width="0.822">Female</text>
<line x1="215.8" y1="460.1" x2="257.6" y2="460.1" stroke="#000" stroke-width="2"/>
<text transform="matrix(0.15368,0.00000,0.00000,0.15211,207.039,451.248)" font-size="100" font-weight="normal" fill="#000" stroke="#000" stroke-width="0.976"><tspan font-style="italic">P</tspan>&lt;0.001</text>
<text transform="matrix(0.00000,-0.22225,0.22128,0.00000,115.553,598.867)" font-size="100" font-weight="normal" fill="#000" stroke="#000" stroke-width="0.675">ΔBEE (kcal/day)</text>
<text transform="matrix(0.29385,0.00000,0.00000,0.31268,64.325,400.387)" font-size="100" font-weight="bold" fill="#000" stroke="#000" stroke-width="0.510">C</text>
<line x1="524.10" y1="516.40" x2="700.10" y2="516.40" stroke="#000" stroke-width="1.3" stroke-dasharray="1.8 1.77"/>
<path d="M558.9 487.7V573.2" stroke="#999" stroke-width="1.4" fill="none"/>
<path d="M550.9 487.7h16M550.9 573.2h16" stroke="#666" stroke-width="1.4" fill="none"/>
<path d="M665 485V561.8" stroke="#999" stroke-width="1.4" fill="none"/>
<path d="M658.0 485h14M658.0 561.8h14" stroke="#666" stroke-width="1.4" fill="none"/>
<path d="M611.9 486.6V567" stroke="#8a8a8a" stroke-width="1.3" fill="none"/>
<path d="M606.4 486.6h11M606.4 567h11" stroke="#4a4a4a" stroke-width="1.3" fill="none"/>
<line x1="541.4" y1="530" x2="576.4" y2="530" stroke="#000" stroke-width="1.7"/>
<line x1="648.0" y1="523.3" x2="682.0" y2="523.3" stroke="#000" stroke-width="1.7"/>
<circle cx="558.9" cy="463.8" r="5" fill="#1890d4" stroke="#0a3552" stroke-width="1"/><circle cx="554.6" cy="481.4" r="5" fill="#1890d4" stroke="#0a3552" stroke-width="1"/><circle cx="546.3" cy="491.0" r="5" fill="#1890d4" stroke="#0a3552" stroke-width="1"/><circle cx="554.6" cy="498.3" r="5" fill="#1890d4" stroke="#0a3552" stroke-width="1"/><circle cx="562.7" cy="495.3" r="5" fill="#1890d4" stroke="#0a3552" stroke-width="1"/><circle cx="546.3" cy="502.1" r="5" fill="#1890d4" stroke="#0a3552" stroke-width="1"/><circle cx="554.6" cy="510.9" r="5" fill="#1890d4" stroke="#0a3552" stroke-width="1"/><circle cx="562.7" cy="508.6" r="5" fill="#1890d4" stroke="#0a3552" stroke-width="1"/><circle cx="562.7" cy="531.0" r="5" fill="#1890d4" stroke="#0a3552" stroke-width="1"/><circle cx="554.6" cy="539.3" r="5" fill="#1890d4" stroke="#0a3552" stroke-width="1"/><circle cx="562.7" cy="548.8" r="5" fill="#1890d4" stroke="#0a3552" stroke-width="1"/><circle cx="554.6" cy="565.2" r="5" fill="#1890d4" stroke="#0a3552" stroke-width="1"/><circle cx="562.7" cy="566.2" r="5" fill="#1890d4" stroke="#0a3552" stroke-width="1"/><circle cx="554.6" cy="582.0" r="5" fill="#1890d4" stroke="#0a3552" stroke-width="1"/><circle cx="562.7" cy="590.1" r="5" fill="#1890d4" stroke="#0a3552" stroke-width="1"/><circle cx="558.9" cy="609.7" r="5" fill="#1890d4" stroke="#0a3552" stroke-width="1"/><circle cx="665.0" cy="453.0" r="5" fill="#ea007f" stroke="#640033" stroke-width="1"/><circle cx="665.0" cy="465.5" r="5" fill="#ea007f" stroke="#640033" stroke-width="1"/><circle cx="665.0" cy="477.9" r="5" fill="#ea007f" stroke="#640033" stroke-width="1"/><circle cx="658.6" cy="483.8" r="5" fill="#ea007f" stroke="#640033" stroke-width="1"/><circle cx="671.1" cy="486.1" r="5" fill="#ea007f" stroke="#640033" stroke-width="1"/><circle cx="671.1" cy="521.6" r="5" fill="#ea007f" stroke="#640033" stroke-width="1"/><circle cx="658.6" cy="527.1" r="5" fill="#ea007f" stroke="#640033" stroke-width="1"/><circle cx="665.0" cy="524.5" r="5" fill="#ea007f" stroke="#640033" stroke-width="1"/><circle cx="652.7" cy="542.9" r="5" fill="#ea007f" stroke="#640033" stroke-width="1"/><circle cx="659.1" cy="542.2" r="5" fill="#ea007f" stroke="#640033" stroke-width="1"/><circle cx="677.1" cy="540.5" r="5" fill="#ea007f" stroke="#640033" stroke-width="1"/><circle cx="671.1" cy="547.2" r="5" fill="#ea007f" stroke="#640033" stroke-width="1"/><circle cx="665.0" cy="550.7" r="5" fill="#ea007f" stroke="#640033" stroke-width="1"/><circle cx="661.7" cy="563.5" r="5" fill="#ea007f" stroke="#640033" stroke-width="1"/><circle cx="668.1" cy="565.4" r="5" fill="#ea007f" stroke="#640033" stroke-width="1"/><circle cx="665.0" cy="577.2" r="5" fill="#ea007f" stroke="#640033" stroke-width="1"/>
<circle cx="611.8" cy="526.8" r="5.2" fill="#000"/>
<path d="M524.1 382.2V650.5H700.1" fill="none" stroke="#000" stroke-width="2"/>
<path d="M517.3000000000001 382.29999999999995H524.1M517.3000000000001 449.4H524.1M517.3000000000001 516.5H524.1M517.3000000000001 583.6H524.1M517.3000000000001 650.7H524.1M559 650.5V656.8M611.7 650.5V656.8M664.9 650.5V656.8" stroke="#000" stroke-width="2" fill="none"/>
<text transform="matrix(0.19800,0.00000,0.00000,0.19800,488.168,388.531)" font-size="100" font-weight="normal" fill="#000" stroke="#000" stroke-width="0.758">0.2</text>
<text transform="matrix(0.19800,0.00000,0.00000,0.19800,488.168,455.631)" font-size="100" font-weight="normal" fill="#000" stroke="#000" stroke-width="0.758">0.1</text>
<text transform="matrix(0.19800,0.00000,0.00000,0.19800,487.970,522.731)" font-size="100" font-weight="normal" fill="#000" stroke="#000" stroke-width="0.758">0.0</text>
<text transform="matrix(0.19800,0.00000,0.00000,0.19800,481.634,589.831)" font-size="100" font-weight="normal" fill="#000" stroke="#000" stroke-width="0.758">-0.1</text>
<text transform="matrix(0.19800,0.00000,0.00000,0.19800,481.634,656.931)" font-size="100" font-weight="normal" fill="#000" stroke="#000" stroke-width="0.758">-0.2</text>
<text transform="matrix(0.18333,0.00000,0.00000,0.17432,539.533,675.526)" font-size="100" font-weight="normal" fill="#000" stroke="#000" stroke-width="0.818">Male</text>
<text transform="matrix(0.17810,0.00000,0.00000,0.17260,602.500,675.400)" font-size="100" font-weight="normal" fill="#000" stroke="#000" stroke-width="0.842">All</text>
<text transform="matrix(0.18660,0.00000,0.00000,0.17432,633.907,675.526)" font-size="100" font-weight="normal" fill="#000" stroke="#000" stroke-width="0.804">Female</text>
<text transform="matrix(0.00000,-0.22540,0.22234,0.00000,472.631,631.176)" font-size="100" font-weight="normal" fill="#000" stroke="#000" stroke-width="0.665">ΔPeak AEE (kcal/hour)</text>
<text transform="matrix(0.29508,0.00000,0.00000,0.31304,420.234,400.400)" font-size="100" font-weight="bold" fill="#000" stroke="#000" stroke-width="0.508">D</text>
</svg></body></html>
